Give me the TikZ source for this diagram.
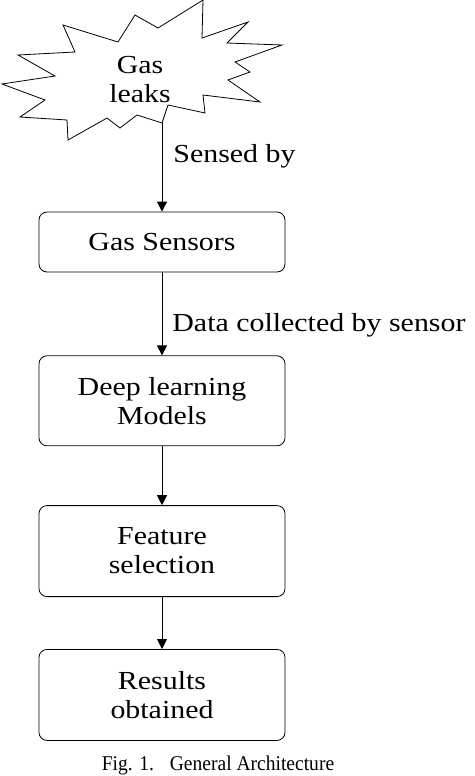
\documentclass[tikz,border=0pt]{standalone}
\usepackage{fontspec}
\setmainfont{Liberation Serif}[FakeStretch=1.15]
\newfontfamily\capfont{Liberation Serif}[FakeStretch=0.93]
\usetikzlibrary{arrows.meta,positioning}
\tikzset{proc box/.style={rectangle,rounded corners=8pt,draw,line width=0.8pt,minimum width=246pt,align=center,font=\fontsize{26}{29}\selectfont},
         edge label/.style={rectangle,draw=none,fill=none,inner sep=2pt,font=\fontsize{26}{29}\selectfont},
         flow/.style={-{Triangle[length=10pt,width=10pt]},line width=0.8pt},
}
\begin{document}
\begin{tikzpicture}[x=1pt,y=-1pt]
\useasboundingbox (0,0) rectangle (474,776);
% the gas leak burst
\draw[line width=0.8pt,line join=miter] (203,0) -- (202,38) -- (248,22) -- (227,43) -- (282,45) -- (235,62)
    -- (250,72) -- (228,80) -- (260,102) -- (203,95) -- (205,113) -- (168,105) -- (162,123)
    -- (137,115) -- (120,128) -- (107,118) -- (68,140) -- (67,120) -- (20,117) -- (45,100)
    -- (2,84) -- (55,76) -- (18,55) -- (75,52) -- (63,25) -- (118,42) -- (135,15) -- (158,28) -- cycle;
\node[edge label,align=center] (leak) at (140,80) {Gas\\leaks};
\coordinate (leakbot) at (162,123);
% the chain of boxes
\node[proc box,minimum height=60pt] (sensors) at (162,242) {Gas Sensors};
\node[proc box,minimum height=90pt,below=83pt of sensors] (deep) {Deep learning\\Models};
\node[proc box,minimum height=91pt,below=59pt of deep] (feature) {Feature\\selection};
\node[proc box,minimum height=91pt,below=52pt of feature] (results) {Results\\obtained};
\draw[flow] (leakbot) -- node[edge label,anchor=west,xshift=9pt,pos=0.38] {Sensed by} (sensors);
\draw[flow] (sensors) -- node[edge label,anchor=west,xshift=8pt,pos=0.64] {Data collected by sensor} (deep);
\draw[flow] (deep) -- (feature);
\draw[flow] (feature) -- (results);
\node[edge label,font=\capfont\fontsize{21}{24}\selectfont] (caption) at (218,765) {Fig. 1.\hspace{0.45em} General Architecture};
\end{tikzpicture}
\end{document}
